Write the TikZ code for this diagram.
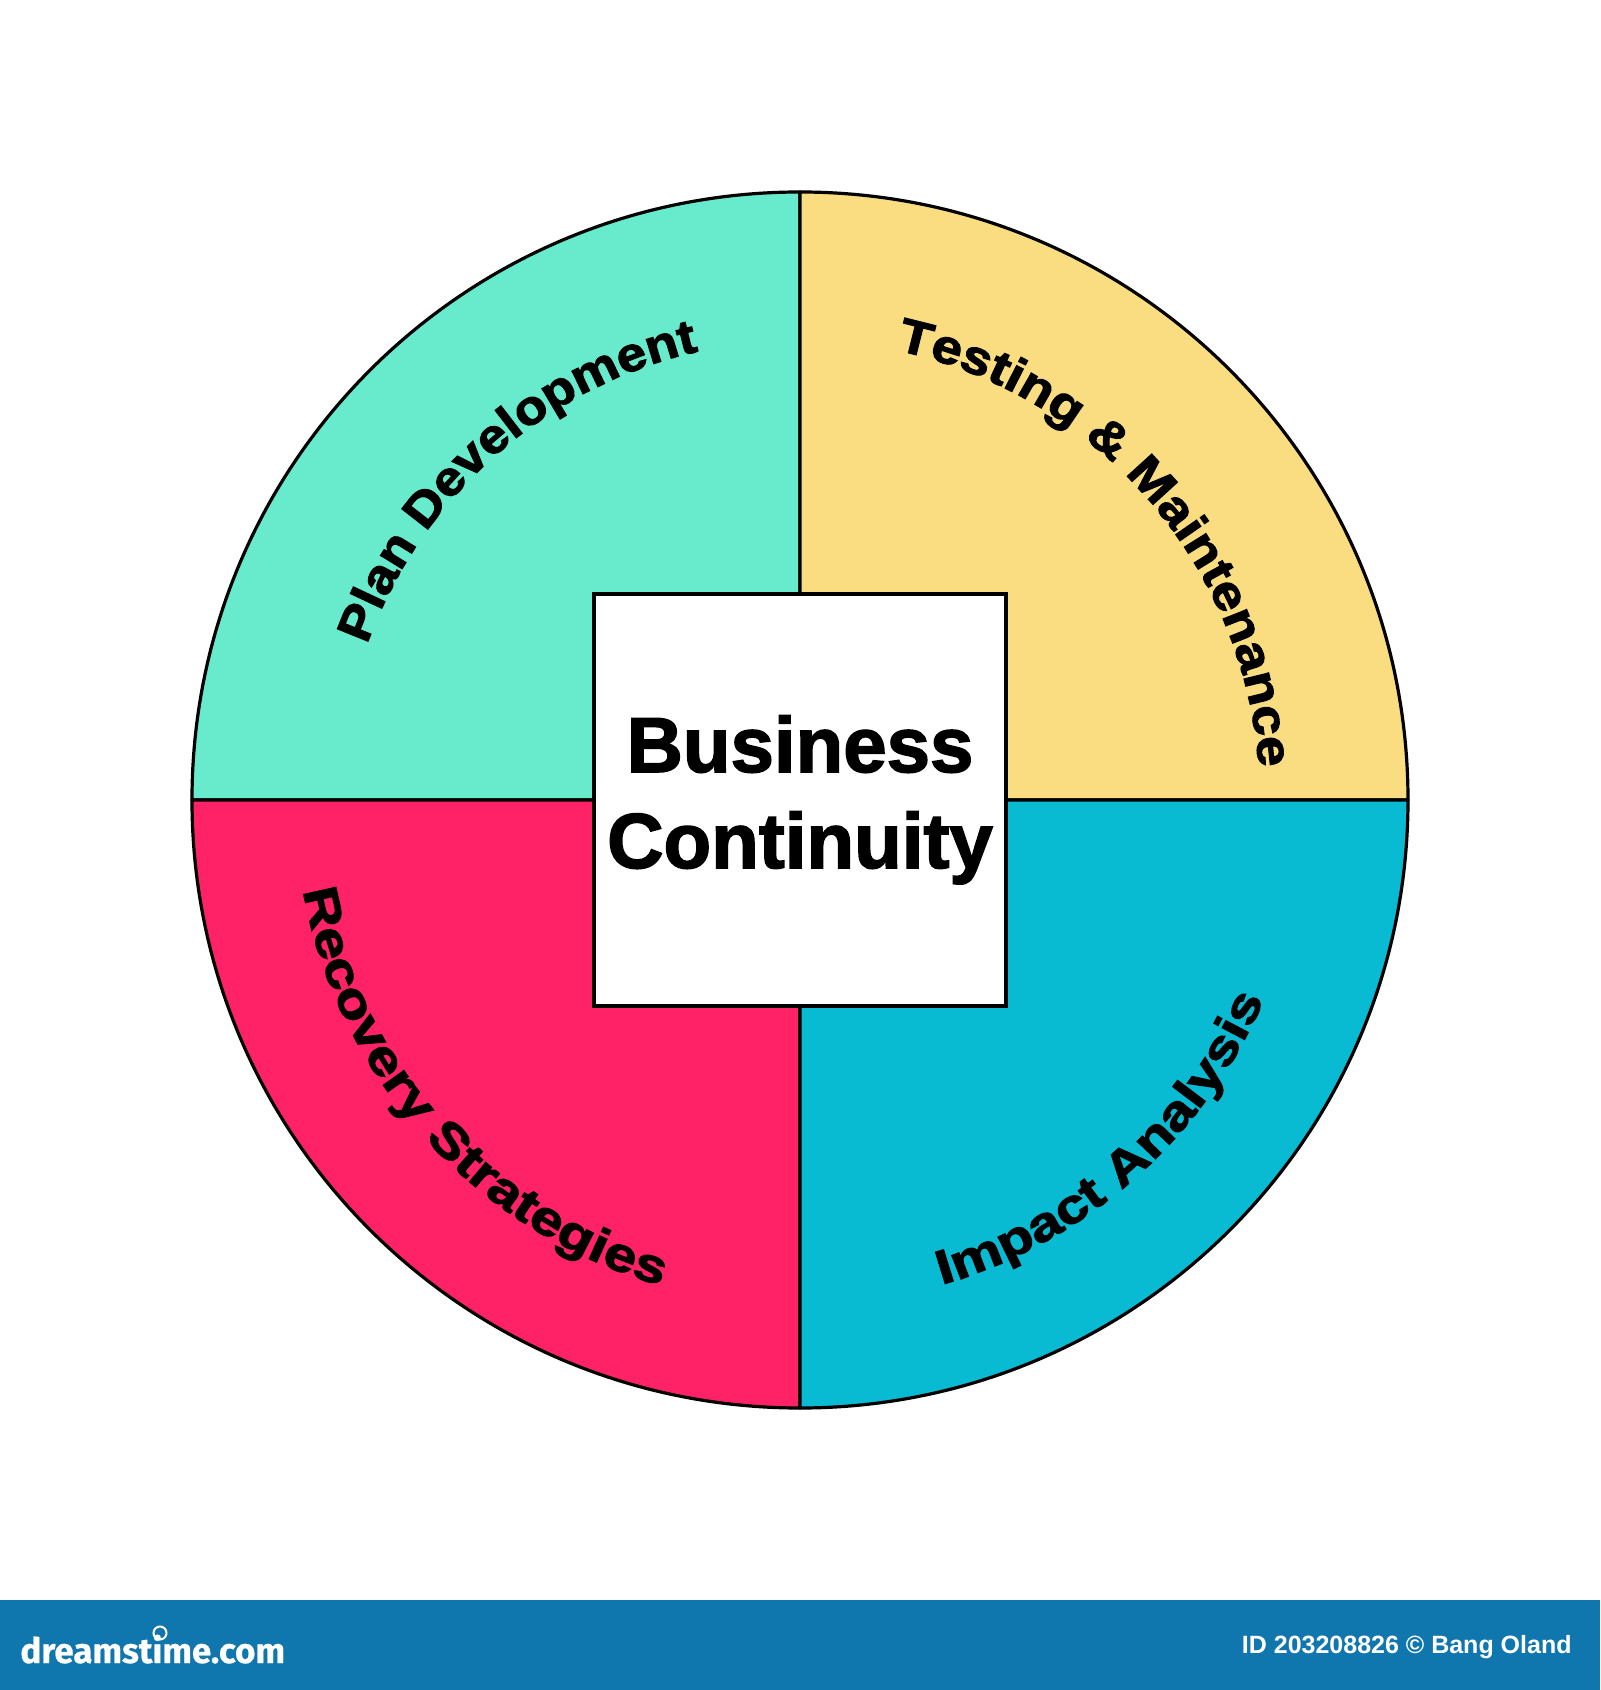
\documentclass[tikz,border=0pt]{standalone}
\usepackage{fontspec}
\usetikzlibrary{decorations.text}
\setmainfont{Liberation Sans}
\newfontfamily\heavyfont[BoldFeatures={FakeStretch=1.11,FakeBold=2.4}]{Liberation Sans}
\newfontfamily\heavymid[BoldFeatures={FakeStretch=1.135,FakeBold=2.4}]{Liberation Sans}
\newfontfamily\heavywide[BoldFeatures={FakeStretch=1.217,FakeBold=2.4}]{Liberation Sans}
\newfontfamily\titlefont[BoldFeatures={FakeBold=2.0}]{Liberation Sans}
\newfontfamily\brandfont[BoldFeatures={FakeBold=0.6}]{Fira Sans}
\newfontfamily\creditfont{Liberation Sans}
\definecolor{mintc}{HTML}{67EBCC}
\definecolor{sandc}{HTML}{FADD80}
\definecolor{rosec}{HTML}{FF2266}
\definecolor{aquac}{HTML}{08BAD2}
\definecolor{barc}{HTML}{0F76AE}
\tikzset{
  sector/.style={draw=black,line width=1.6pt,line join=round},
  arclabel/.style={decorate,decoration={text along path,text align=center,
     text={|\fontsize{24}{24}\selectfont\heavyfont\bfseries|#1}}},
  arclabelmid/.style={decorate,decoration={text along path,text align=center,
     text={|\fontsize{24}{24}\selectfont\heavymid\bfseries|#1}}},
  arclabelwide/.style={decorate,decoration={text along path,text align=center,
     text={|\fontsize{24}{24}\selectfont\heavywide\bfseries|#1}}},
  title/.style={font=\fontsize{39}{39}\selectfont\titlefont\bfseries,anchor=base,inner sep=0pt},
  corebox/.style={draw=black,fill=white,line width=2pt,minimum size=206pt,inner sep=0pt},
}
\begin{document}
\begin{tikzpicture}[x=0.5pt,y=0.5pt]
\useasboundingbox (-800,-890) rectangle (800,800);
\fill[white] (-800,-890) rectangle (800,800);
\fill[barc] (-800,-890) rectangle (800,-800);
\filldraw[sector,fill=mintc] (0,0) -- (0,608) arc[start angle=90,end angle=180,radius=608] -- cycle;
\filldraw[sector,fill=sandc] (0,0) -- (608,0) arc[start angle=0,end angle=90,radius=608] -- cycle;
\filldraw[sector,fill=rosec] (0,0) -- (-608,0) arc[start angle=180,end angle=270,radius=608] -- cycle;
\filldraw[sector,fill=aquac] (0,0) -- (0,-608) arc[start angle=270,end angle=360,radius=608] -- cycle;
\node[corebox] (core) at (0,0) {};
\node[title] (line1) at (0,28) {Business};
\node[title] (line2) at (0,-68) {Continuity};
\path[arclabel={Plan Development}] (160:460) arc[start angle=160,end angle=103,radius=460];
\path[arclabelmid={Testing {\&} Maintenance}] (80:460) arc[start angle=80,end angle=2,radius=460];
\path[arclabelwide={Impact Analysis}] (-75:505) arc[start angle=-75,end angle=-22,radius=505];
\path[arclabelwide={Recovery Strategies}] (188.2:505) arc[start angle=188.2,end angle=256.2,radius=505];
\node[anchor=base west,text=white,inner sep=0pt,font=\fontsize{17.5}{17.5}\selectfont\brandfont\bfseries] (brand) at (-780,-863) {dreamstime.com};
\draw[white,line width=1pt] (-640,-833) circle (6.5);
\node[anchor=base east,text=white,inner sep=0pt,font=\fontsize{12.5}{12.5}\selectfont\creditfont\bfseries] (credit) at (772,-853) {ID 203208826 © Bang Oland};
\end{tikzpicture}
\end{document}
